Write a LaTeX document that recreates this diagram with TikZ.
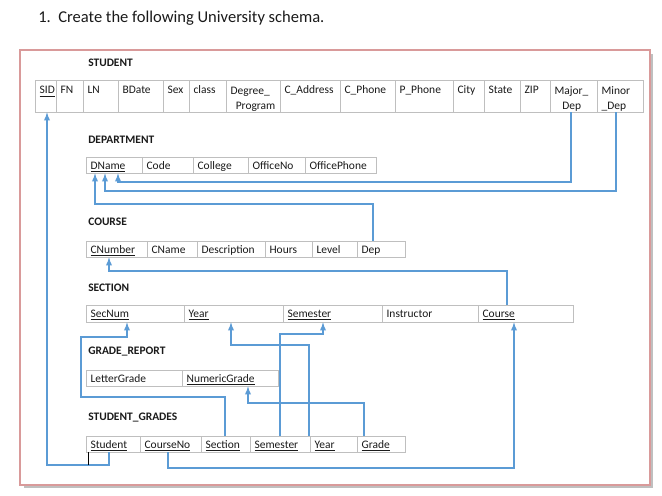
\documentclass[tikz,border=0pt]{standalone}
\usepackage{fontspec}
\setmainfont{Carlito}
\usetikzlibrary{fit}
\definecolor{frm}{HTML}{D99A9A}
\definecolor{lnk}{HTML}{5B9BD5}
\definecolor{cellc}{HTML}{BFBFBF}
\definecolor{txt}{HTML}{1A1A1A}
\tikzset{
  cellbox/.style={draw=cellc,line width=0.5pt,inner sep=0pt},
  celltxt/.style={anchor=base west,inner sep=0pt,font=\fontsize{8.6}{10.2}\selectfont,text=txt,align=left},
  celltop/.style={anchor=north west,inner sep=0pt,font=\fontsize{8.6}{11.5}\selectfont,text=txt,align=left},
  lbl/.style={anchor=west,inner sep=0pt,font=\bfseries\fontsize{8.6}{10}\selectfont,text=txt},
  fk/.style={draw=lnk,line width=1.1pt,-latex}
}
% name x1 x2 y1 y2 baseline text
\newcommand{\mycell}[7]{%
  \node[cellbox,fit={(#2,#4)(#3,#5)}] (#1) {};
  \node[celltxt] at ([xshift=3.5pt]#1.west |- 0,#6) {#7};}
% name x1 x2 text (student row, top aligned)
\newcommand{\mycellT}[4]{%
  \node[cellbox,fit={(#2,80)(#3,112)}] (#1) {};
  \node[celltop] at ([xshift=3.5pt]#1.west |- 0,83) {\strut #4};}
\begin{document}
\begin{tikzpicture}[x=0.75pt,y=-0.75pt]
\useasboundingbox (0,0) rectangle (662,496);
\node[anchor=west,inner sep=0pt,font=\fontsize{12.4}{14}\selectfont,text=txt] (title) at (38,18) {1.\ \ Create the following University schema.};
\fill[black!25] (24,54) rectangle (653,488);
\fill[white] (20,50) rectangle (650,485);
\node[draw=frm,line width=2.2pt,fit={(20,50)(650,485)},inner sep=0pt] (frame) {};
% STUDENT
\node[lbl] (lst) at (88,63) {STUDENT};
\mycellT{sid}{35}{56}{\underline{SID}}
\mycellT{fn}{56}{83}{FN}
\mycellT{ln}{83}{118}{LN}
\mycellT{bd}{118}{163}{BDate}
\mycellT{sex}{163}{189}{Sex}
\mycellT{cls}{189}{226}{class}
\mycellT{deg}{226}{280}{Degree\_\\\ \ Program}
\mycellT{cad}{280}{340}{C\_Address}
\mycellT{cph}{340}{395}{C\_Phone}
\mycellT{pph}{395}{453}{P\_Phone}
\mycellT{cty}{453}{484}{City}
\mycellT{sta}{484}{520}{State}
\mycellT{zip}{520}{550}{ZIP}
\mycellT{maj}{550}{597}{Major\_\\\ \ \ Dep}
\mycellT{mnr}{597}{643}{Minor\\\_Dep}
% DEPARTMENT
\node[lbl] (ldp) at (88,140) {DEPARTMENT};
\mycell{dname}{86}{142}{157}{173}{169}{\underline{DName}}
\mycell{code}{142}{193}{157}{173}{169}{Code}
\mycell{coll}{193}{248}{157}{173}{169}{College}
\mycell{ono}{248}{305}{157}{173}{169}{OfficeNo}
\mycell{oph}{305}{376}{157}{173}{169}{OfficePhone}
% COURSE
\node[lbl] (lco) at (88,222) {COURSE};
\mycell{cnum}{86}{147}{241}{257}{253}{\underline{CNumber}}
\mycell{cname}{147}{197}{241}{257}{253}{CName}
\mycell{desc}{197}{265}{241}{257}{253}{Description}
\mycell{hrs}{265}{312}{241}{257}{253}{Hours}
\mycell{lev}{312}{357}{241}{257}{253}{Level}
\mycell{dep}{357}{405}{241}{257}{253}{Dep}
% SECTION
\node[lbl] (lse) at (88,288) {SECTION};
\mycell{secn}{86}{184}{305}{322}{317}{\underline{SecNum}}
\mycell{syr}{184}{283}{305}{322}{317}{\underline{Year}}
\mycell{ssem}{283}{382}{305}{322}{317}{\underline{Semester}}
\mycell{inst}{382}{478}{305}{322}{317}{Instructor}
\mycell{scrs}{478}{573}{305}{322}{317}{\underline{Course}}
% GRADE_REPORT
\node[lbl] (lgr) at (88,352) {GRADE\_REPORT};
\mycell{lg}{86}{182}{370}{386}{382}{LetterGrade}
\mycell{ng}{182}{278}{370}{386}{382}{\underline{NumericGrade}}
% STUDENT_GRADES
\node[lbl] (lsg) at (88,418) {STUDENT\_GRADES};
\mycell{gst}{86}{140}{436}{452}{448}{\underline{Student}}
\mycell{gcn}{140}{201}{436}{452}{448}{\underline{CourseNo}}
\mycell{gsec}{201}{250}{436}{452}{448}{\underline{Section}}
\mycell{gsem}{250}{310}{436}{452}{448}{\underline{Semester}}
\mycell{gyr}{310}{357}{436}{452}{448}{\underline{Year}}
\mycell{ggr}{357}{405}{436}{452}{448}{\underline{Grade}}
% connectors
\draw[fk] (109,0 |- gst.south) -- (109,465) -- (47,465) -- (47,0 |- sid.south);
\draw[fk] (571,0 |- maj.south) -- (571,182) -- (118,182) -- (118,0 |- dname.south);
\draw[fk] (616,0 |- mnr.south) -- (616,191) -- (105,191) -- (105,0 |- dname.south);
\draw[fk] (373,0 |- dep.north) -- (373,204) -- (95,204) -- (95,0 |- dname.south);
\draw[fk] (507,0 |- scrs.north) -- (507,271) -- (109,271) -- (109,0 |- cnum.south);
\draw[fk] (225,0 |- gsec.north) -- (225,397) -- (81,397) -- (81,337) -- (127,337) -- (127,0 |- secn.south);
\draw[fk] (309,0 |- gyr.north) -- (309,345) -- (231,345) -- (231,0 |- syr.south);
\draw[fk] (280,0 |- gsem.north) -- (280,334) -- (323,334) -- (323,0 |- ssem.south);
\draw[fk] (364,0 |- ggr.north) -- (364,403) -- (248,403) -- (248,0 |- ng.south);
\draw[fk] (168,0 |- gcn.south) -- (168,468) -- (514,468) -- (514,0 |- scrs.south);
\draw[black,line width=0.6pt] (88,0 |- gst.south) -- (88,465);
\end{tikzpicture}
\end{document}
